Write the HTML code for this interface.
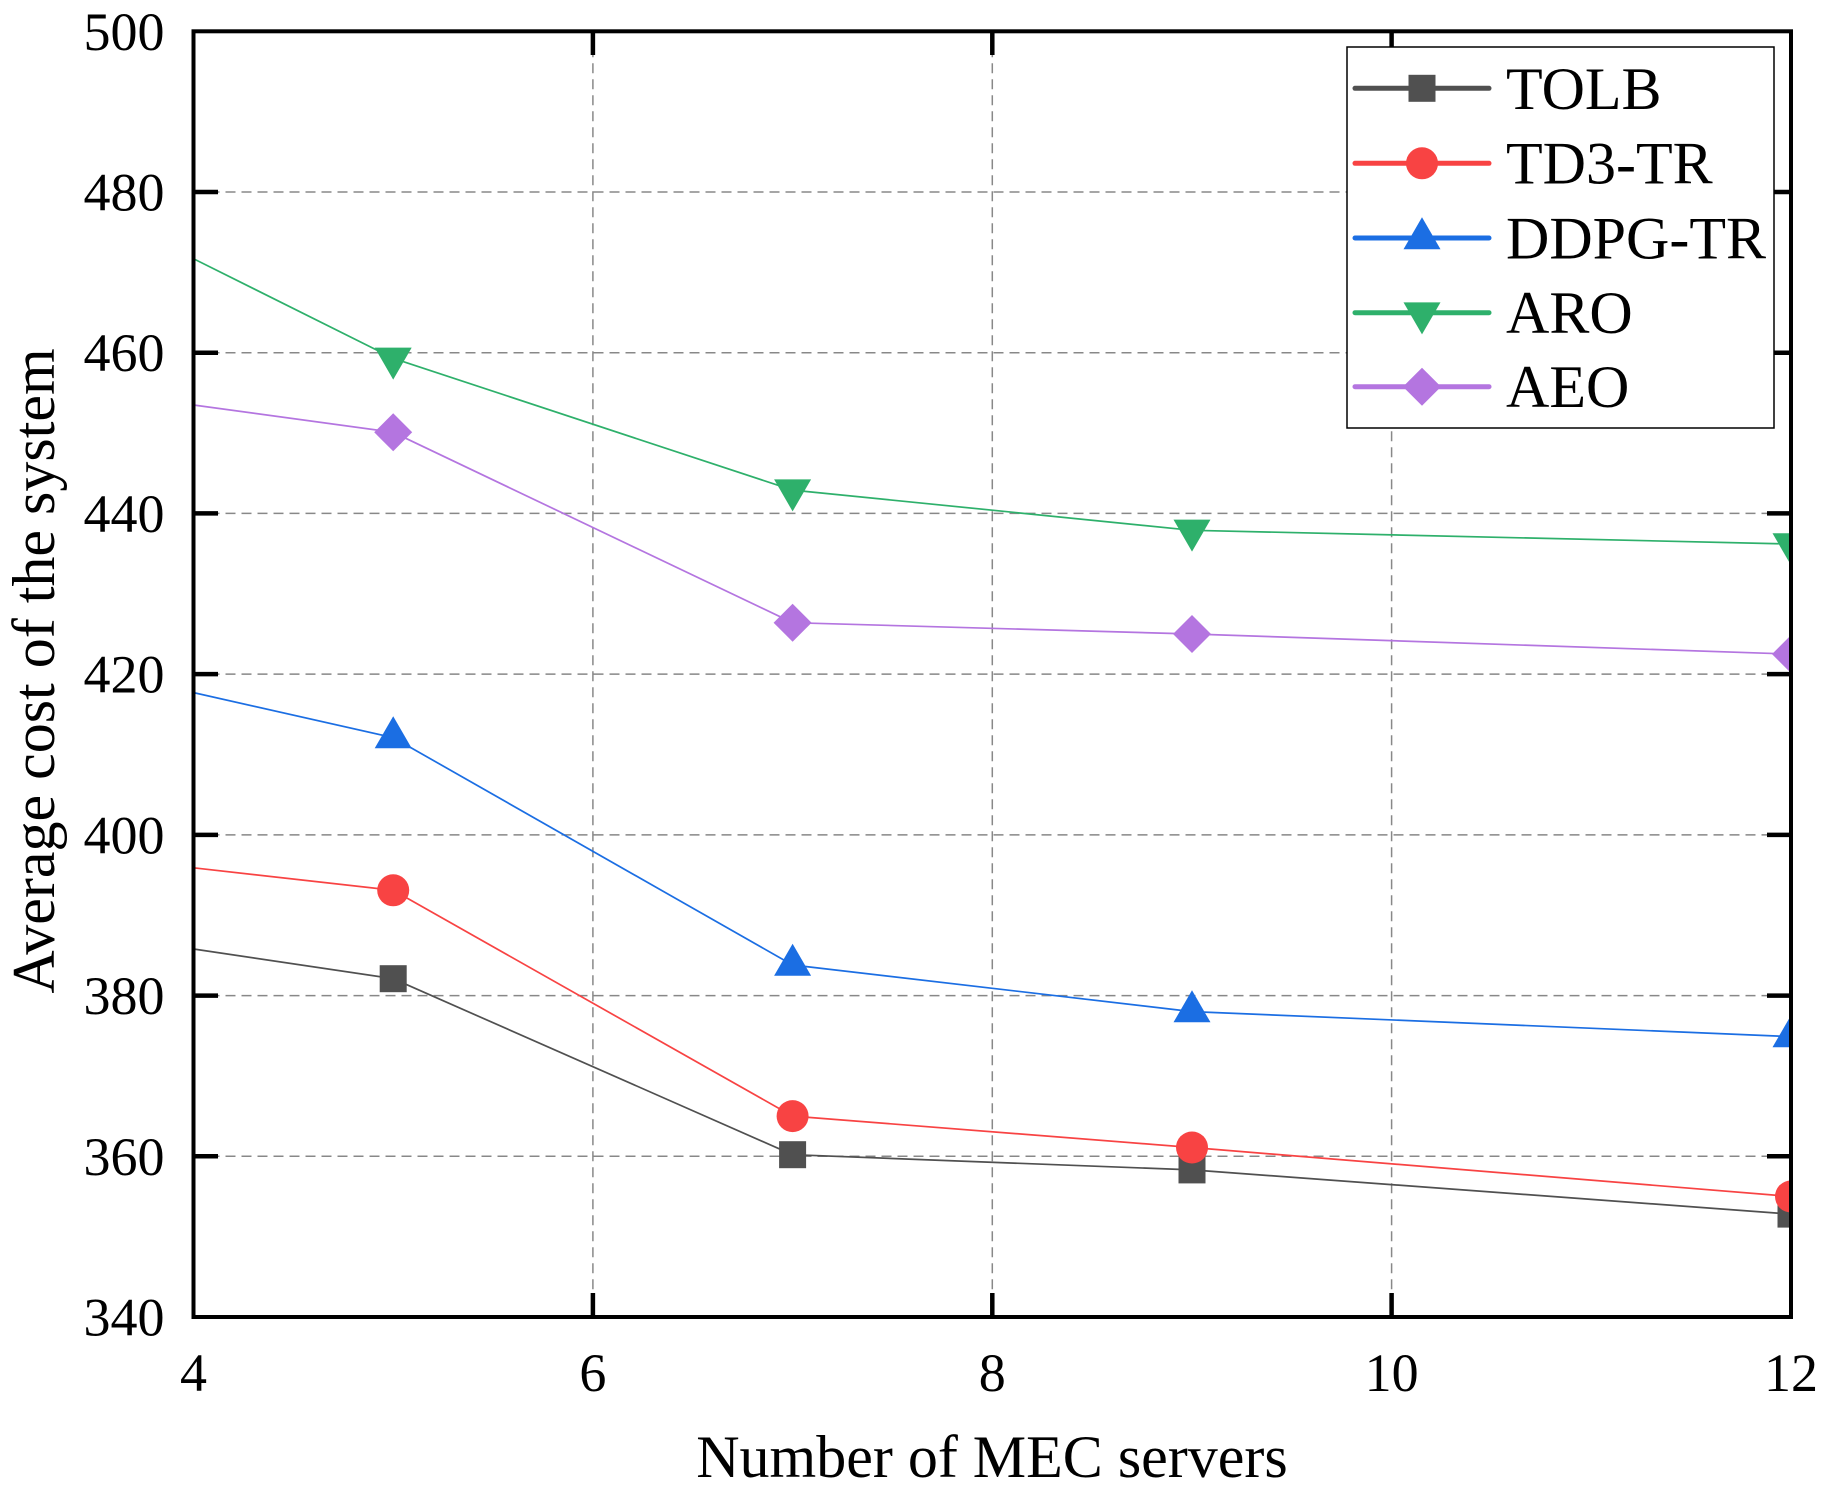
<!DOCTYPE html>
<html>
<head>
<meta charset="utf-8">
<style>
  html, body { margin: 0; padding: 0; background: #ffffff; }
  svg { display: block; }
  text { font-family: "Liberation Serif", "Times New Roman", serif; fill: #000; }
</style>
</head>
<body>
<svg xmlns="http://www.w3.org/2000/svg" width="1828" height="1498" viewBox="0 0 1828 1498">
  <rect x="0" y="0" width="1828" height="1498" fill="#ffffff"/>
  <defs>
    <clipPath id="plot">
      <rect x="193.5" y="31.3" width="1597.5" height="1285.7"/>
    </clipPath>
  </defs>

  <g stroke="#888888" stroke-width="1.5" stroke-dasharray="10,6" fill="none">
    <line x1="193.5" y1="192.0" x2="1791" y2="192.0"/>
    <line x1="193.5" y1="352.7" x2="1791" y2="352.7"/>
    <line x1="193.5" y1="513.4" x2="1791" y2="513.4"/>
    <line x1="193.5" y1="674.1" x2="1791" y2="674.1"/>
    <line x1="193.5" y1="834.9" x2="1791" y2="834.9"/>
    <line x1="193.5" y1="995.6" x2="1791" y2="995.6"/>
    <line x1="193.5" y1="1156.3" x2="1791" y2="1156.3"/>
    <line x1="592.9" y1="31.3" x2="592.9" y2="1317"/>
    <line x1="992.3" y1="31.3" x2="992.3" y2="1317"/>
    <line x1="1391.6" y1="31.3" x2="1391.6" y2="1317"/>
  </g>

  <g clip-path="url(#plot)">
    <g fill="none" stroke-width="1.7" stroke-linejoin="round">
      <polyline stroke="#505050" points="193.5,949.0 393.2,978.7 792.6,1154.7 1192.0,1169.9 1791.0,1214.1"/>
      <polyline stroke="#f84343" points="193.5,867.8 393.2,890.3 792.6,1116.1 1192.0,1147.5 1791.0,1196.5"/>
      <polyline stroke="#1b6ee3" points="193.5,692.6 393.2,737.6 792.6,965.0 1192.0,1011.6 1791.0,1036.6"/>
      <polyline stroke="#2eb06b" points="193.5,258.7 393.2,358.3 792.6,490.1 1192.0,530.3 1791.0,544.0"/>
      <polyline stroke="#b475e0" points="193.5,405.0 393.2,432.3 792.6,622.7 1192.0,634.0 1791.0,654.1"/>
    </g>
    <g fill="#505050">
      <rect x="379.7" y="965.2" width="27" height="27"/>
      <rect x="779.1" y="1141.2" width="27" height="27"/>
      <rect x="1178.5" y="1156.4" width="27" height="27"/>
      <rect x="1777.5" y="1200.6" width="27" height="27"/>
    </g>
    <g fill="#f84343">
      <circle cx="393.2" cy="890.3" r="16"/>
      <circle cx="792.6" cy="1116.1" r="16"/>
      <circle cx="1192.0" cy="1147.5" r="16"/>
      <circle cx="1791.0" cy="1196.5" r="16"/>
    </g>
    <g fill="#1b6ee3">
      <polygon points="393.2,716.3 411.7,748.3 374.7,748.3"/>
      <polygon points="792.6,943.7 811.1,975.7 774.1,975.7"/>
      <polygon points="1192.0,990.3 1210.5,1022.3 1173.5,1022.3"/>
      <polygon points="1791.0,1015.3 1809.5,1047.3 1772.5,1047.3"/>
    </g>
    <g fill="#2eb06b">
      <polygon points="374.7,347.6 411.7,347.6 393.2,379.6"/>
      <polygon points="774.1,479.4 811.1,479.4 792.6,511.4"/>
      <polygon points="1173.5,519.6 1210.5,519.6 1192.0,551.6"/>
      <polygon points="1772.5,533.3 1809.5,533.3 1791.0,565.3"/>
    </g>
    <g fill="#b475e0">
      <polygon points="393.2,413.3 412.2,432.3 393.2,451.3 374.2,432.3"/>
      <polygon points="792.6,603.7 811.6,622.7 792.6,641.7 773.6,622.7"/>
      <polygon points="1192.0,615.0 1211.0,634.0 1192.0,653.0 1173.0,634.0"/>
      <polygon points="1791.0,635.1 1810.0,654.1 1791.0,673.1 1772.0,654.1"/>
    </g>
  </g>

  <g stroke="#000" stroke-width="4.5" fill="none">
    <line x1="193.5" y1="192.0" x2="218" y2="192.0"/>
    <line x1="193.5" y1="352.7" x2="218" y2="352.7"/>
    <line x1="193.5" y1="513.4" x2="218" y2="513.4"/>
    <line x1="193.5" y1="674.1" x2="218" y2="674.1"/>
    <line x1="193.5" y1="834.9" x2="218" y2="834.9"/>
    <line x1="193.5" y1="995.6" x2="218" y2="995.6"/>
    <line x1="193.5" y1="1156.3" x2="218" y2="1156.3"/>
    <line x1="1767" y1="192.0" x2="1791" y2="192.0"/>
    <line x1="1767" y1="352.7" x2="1791" y2="352.7"/>
    <line x1="1767" y1="513.4" x2="1791" y2="513.4"/>
    <line x1="1767" y1="674.1" x2="1791" y2="674.1"/>
    <line x1="1767" y1="834.9" x2="1791" y2="834.9"/>
    <line x1="1767" y1="995.6" x2="1791" y2="995.6"/>
    <line x1="1767" y1="1156.3" x2="1791" y2="1156.3"/>
    <line x1="592.9" y1="1317" x2="592.9" y2="1293"/>
    <line x1="992.3" y1="1317" x2="992.3" y2="1293"/>
    <line x1="1391.6" y1="1317" x2="1391.6" y2="1293"/>
    <line x1="592.9" y1="31.3" x2="592.9" y2="55"/>
    <line x1="992.3" y1="31.3" x2="992.3" y2="55"/>
    <line x1="1391.6" y1="31.3" x2="1391.6" y2="55"/>
  </g>

  <rect x="193.5" y="31.3" width="1597.5" height="1285.7" fill="none" stroke="#000" stroke-width="4"/>

  <rect x="1347" y="47" width="427" height="381" fill="#ffffff" stroke="#000" stroke-width="1.5"/>
  <g stroke-width="5" stroke-linecap="round" fill="none">
    <line x1="1355" y1="88.3" x2="1489" y2="88.3" stroke="#505050"/>
    <line x1="1355" y1="163.3" x2="1489" y2="163.3" stroke="#f84343"/>
    <line x1="1355" y1="238" x2="1489" y2="238" stroke="#1b6ee3"/>
    <line x1="1355" y1="312.7" x2="1489" y2="312.7" stroke="#2eb06b"/>
    <line x1="1355" y1="386.7" x2="1489" y2="386.7" stroke="#b475e0"/>
  </g>
  <rect x="1408.5" y="74.8" width="27" height="27" fill="#505050"/>
  <circle cx="1422" cy="163.3" r="16" fill="#f84343"/>
  <polygon points="1422,217.3 1440.5,249.3 1403.5,249.3" fill="#1b6ee3"/>
  <polygon points="1403.5,302.4 1440.5,302.4 1422,334.4" fill="#2eb06b"/>
  <polygon points="1422,367.7 1441,386.7 1422,405.7 1403,386.7" fill="#b475e0"/>
  <g font-size="60">
    <text x="1506" y="109">TOLB</text>
    <text x="1506" y="183.5">TD3-TR</text>
    <text x="1506" y="258.5">DDPG-TR</text>
    <text x="1506" y="333">ARO</text>
    <text x="1506" y="407">AEO</text>
  </g>

  <g font-size="54" text-anchor="end">
    <text x="164.5" y="50">500</text>
    <text x="164.5" y="210.5">480</text>
    <text x="164.5" y="371.2">460</text>
    <text x="164.5" y="531.9">440</text>
    <text x="164.5" y="692.6">420</text>
    <text x="164.5" y="853.4">400</text>
    <text x="164.5" y="1014.1">380</text>
    <text x="164.5" y="1174.8">360</text>
    <text x="164.5" y="1335.5">340</text>
  </g>

  <g font-size="54" text-anchor="middle">
    <text x="193.5" y="1391">4</text>
    <text x="592.9" y="1391">6</text>
    <text x="992.3" y="1391">8</text>
    <text x="1391.6" y="1391">10</text>
    <text x="1791" y="1391">12</text>
  </g>

  <text x="992" y="1477" font-size="60" text-anchor="middle">Number of MEC servers</text>
  <text transform="translate(54,671) rotate(-90)" font-size="60" text-anchor="middle">Average cost of the system</text>
</svg>
</body>
</html>
